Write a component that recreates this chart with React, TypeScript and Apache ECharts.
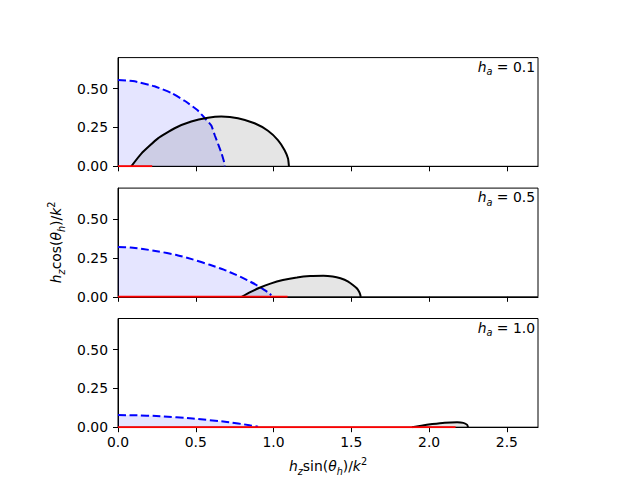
import React, { useEffect, useRef } from "react";
import * as echarts from "echarts";

const xTicks = [0, 0.5, 1, 1.5, 2, 2.5];
const yTicks = [0, 0.25, 0.5];
const panelValues = ["0.1", "0.5", "1.0"];

// panel 1 (h_a = 0.1)
const blue1 = [
  [0, 0.556], [0.107, 0.547], [0.235, 0.515], [0.343, 0.472], [0.428, 0.422], [0.51, 0.362],
  [0.56, 0.308], [0.6, 0.262], [0.622, 0.2], [0.645, 0.14], [0.665, 0.085], [0.68, 0.035], [0.686, 0],
];
const black1 = [
  [0.085, 0], [0.15, 0.082], [0.257, 0.18], [0.364, 0.245], [0.471, 0.288], [0.578, 0.312],
  [0.664, 0.32], [0.771, 0.31], [0.878, 0.277], [0.964, 0.229], [1.028, 0.169], [1.071, 0.104],
  [1.093, 0.05], [1.099, 0],
];
const red1 = [[0, 0], [0.22, 0]];

// panel 2 (h_a = 0.5)
const blue2 = [
  [0, 0.321], [0.08, 0.317], [0.16, 0.308], [0.26, 0.292], [0.37, 0.271], [0.48, 0.241],
  [0.59, 0.206], [0.68, 0.175], [0.76, 0.141], [0.83, 0.108], [0.89, 0.076], [0.94, 0.045],
  [0.974, 0.022], [0.985, 0.01],
];
const black2 = [
  [0.795, 0], [0.85, 0.03], [0.91, 0.058], [0.98, 0.085], [1.06, 0.108], [1.15, 0.125],
  [1.235, 0.134], [1.32, 0.136], [1.38, 0.131], [1.43, 0.119], [1.48, 0.098], [1.51, 0.076],
  [1.535, 0.055], [1.55, 0.032], [1.558, 0.012], [1.56, 0],
];
const red2 = [[0, 0], [1.09, 0]];

// panel 3 (h_a = 1.0)
const blue3 = [
  [0, 0.078], [0.1, 0.077], [0.27, 0.071], [0.48, 0.056], [0.7, 0.034], [0.845, 0.013], [0.9, 0.003],
];
const black3 = [
  [1.89, 0], [1.95, 0.01], [2.02, 0.02], [2.1, 0.029], [2.18, 0.032], [2.22, 0.028], [2.245, 0.015], [2.25, 0],
];
const red3 = [[0, 0], [2.17, 0]];

const blues = [blue1, blue2, blue3];
const blacks = [black1, black2, black3];
const reds = [red1, red2, red3];

const FONT = "DejaVu Sans";
const FS = 13.9;
const gridTops = [57.6, 188.1, 318.5];
const gridH = 108.7;

const rich = {
  i: { fontFamily: FONT, fontSize: FS, fontStyle: "italic" as const, color: "#000", fill: "#000", lineHeight: 20 },
  sub: { fontFamily: FONT, fontSize: 9.7, fontStyle: "italic" as const, color: "#000", fill: "#000", lineHeight: 10, verticalAlign: "bottom" as const },
  sup: { fontFamily: FONT, fontSize: 9.7, color: "#000", fill: "#000", lineHeight: 10, verticalAlign: "top" as const },
  n: { fontFamily: FONT, fontSize: FS, color: "#000", fill: "#000", lineHeight: 20 },
};

export default function App() {
  const ref = useRef<HTMLDivElement>(null);
  useEffect(() => {
    if (!ref.current) return;
    const chart = echarts.init(ref.current, undefined, { renderer: "svg" });
    const grids = gridTops.map((t) => ({
      left: 118, width: 420, top: t, height: gridH,
      show: true, borderColor: "#000", borderWidth: 1, backgroundColor: "transparent",
    }));
    const xAxes = gridTops.map((_, i) => ({
      type: "value", gridIndex: i, min: 0, max: 2.7, interval: 0.5,
      axisLine: { show: true, lineStyle: { color: "#000", width: 1 } },
      axisTick: { show: true, inside: false, length: 5, lineStyle: { color: "#000", width: 1 }, customValues: xTicks },
      axisLabel: {
        show: i === 2, customValues: xTicks, margin: 8,
        fontFamily: FONT, fontSize: FS, color: "#000",
        formatter: (v: number) => v.toFixed(1),
      },
      splitLine: { show: false },
      ...(i === 2
        ? {
            name: "{i|h}{sub|z}{n|sin(}{i|θ}{sub|h}{n|)/}{i|k}{sup|2}",
            nameLocation: "middle", nameGap: 29,
            nameTextStyle: { fontFamily: FONT, fontSize: FS, color: "#000", rich },
          }
        : {}),
    }));
    const yAxes = gridTops.map((_, i) => ({
      type: "value", gridIndex: i, min: 0, max: 0.7, interval: 0.25,
      axisLine: { show: true, lineStyle: { color: "#000", width: 1 } },
      axisTick: { show: true, inside: false, length: 5, lineStyle: { color: "#000", width: 1 }, customValues: yTicks },
      axisLabel: {
        customValues: yTicks, margin: 10,
        fontFamily: FONT, fontSize: FS, color: "#000",
        formatter: (v: number) => v.toFixed(2),
      },
      splitLine: { show: false },
      ...(i === 1
        ? {
            name: "{i|h}{sub|z}{n|cos(}{i|θ}{sub|h}{n|)/}{i|k}{sup|2}",
            nameLocation: "middle", nameGap: 42, nameRotate: 90,
            nameTextStyle: { fontFamily: FONT, fontSize: FS, color: "#000", rich },
          }
        : {}),
    }));
    const series: any[] = [];
    for (let i = 0; i < 3; i++) {
      series.push({
        type: "line", xAxisIndex: i, yAxisIndex: i, data: blues[i], showSymbol: false, smooth: 0.15,
        lineStyle: { color: "#0000ff", width: 2, type: [8, 3.5] },
        areaStyle: { color: "rgba(0,0,255,0.1)", opacity: 1 }, z: 2,
      });
      series.push({
        type: "line", xAxisIndex: i, yAxisIndex: i, data: blacks[i], showSymbol: false, smooth: 0.15,
        lineStyle: { color: "#000", width: 2 },
        areaStyle: { color: "rgba(0,0,0,0.1)", opacity: 1 }, z: 3,
      });
      series.push({
        type: "line", xAxisIndex: i, yAxisIndex: i, data: reds[i], showSymbol: false,
        lineStyle: { color: "#ff0000", width: 2 }, z: 4,
      });
    }
    const graphic = gridTops.map((t, i) => ({
      type: "text", right: 640 - 535, top: t + 2,
      style: {
        text: "{i|h}{sub|a}{n| = " + panelValues[i] + "}",
        rich, fill: "#000", font: `${FS}px ${FONT}`,
      },
    }));
    chart.setOption({
      animation: false,
      backgroundColor: "#fff",
      grid: grids,
      xAxis: xAxes,
      yAxis: yAxes,
      series,
      graphic,
    });
    return () => chart.dispose();
  }, []);
  return <div ref={ref} style={{ position: "fixed", left: 0, top: 0, width: 640, height: 480 }} />;
}
